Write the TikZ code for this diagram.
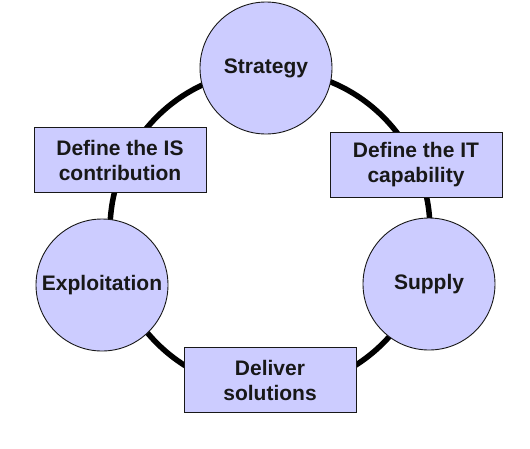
\documentclass[tikz,border=0pt]{standalone}
\usepackage{fontspec}
\setmainfont{Liberation Sans}
\definecolor{lavender}{RGB}{204,204,255}
\definecolor{ink}{RGB}{24,24,24}

\begin{document}
\begin{tikzpicture}[x=1pt, y=-1pt,
  stage/.style={circle, draw=ink, fill=lavender, line width=0.9pt,
    minimum size=132pt, inner sep=0pt, text=ink,
    font=\fontsize{21}{25}\selectfont\bfseries},
  task/.style={rectangle, draw=ink, fill=lavender, line width=0.9pt,
    minimum width=172pt, minimum height=65pt, inner sep=0pt, align=center,
    text=ink, font=\fontsize{21}{25}\selectfont\bfseries}]

\useasboundingbox ( 0, 0 ) rectangle ( 530, 448 );

% Cycle ring
\coordinate (hub) at ( 270, 230 );
\draw [line width=5.5pt] (hub) circle ( 160pt );

% Stages
\node (strategy) at ( 266, 68 ) [stage] {Strategy};
\node (supply) at ( 429, 284 ) [stage] {Supply};
\node (exploit) at ( 102, 285 ) [stage] {Exploitation};

% Tasks between stages
\node (itcap) at ( 416, 165 ) [task] {Define the IT\\capability};
\node (deliver) at ( 270, 380 ) [task] {Deliver\\solutions};
\node (iscontrib) at ( 120, 160 ) [task] {Define the IS\\contribution};

\end{tikzpicture}
\end{document}
